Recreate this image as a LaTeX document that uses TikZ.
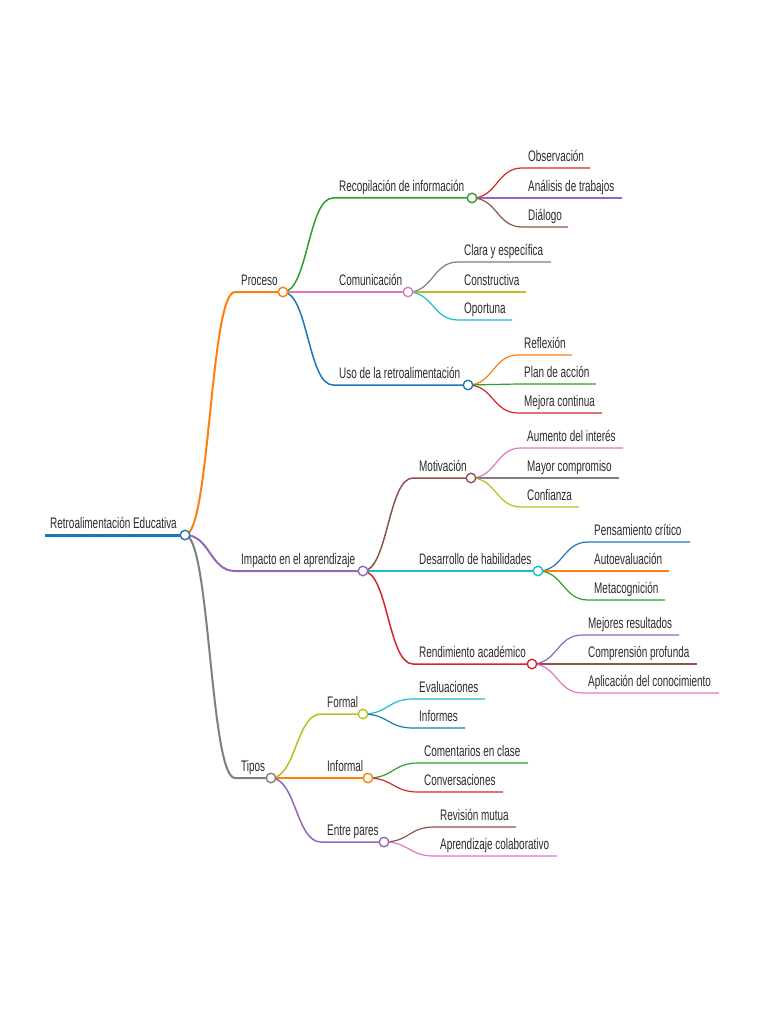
\documentclass[tikz,border=0pt]{standalone}
\usepackage{fontspec}
\setmainfont{Liberation Sans}[FakeStretch=0.65]
\usetikzlibrary{calc}
\definecolor{cBlue}{HTML}{1F77B4}
\definecolor{cOrange}{HTML}{FF7F0E}
\definecolor{cGreen}{HTML}{2CA02C}
\definecolor{cRed}{HTML}{D62728}
\definecolor{cPurple}{HTML}{9467BD}
\definecolor{cBrown}{HTML}{8C564B}
\definecolor{cPink}{HTML}{E377C2}
\definecolor{cGray}{HTML}{7F7F7F}
\definecolor{cOlive}{HTML}{BCBD22}
\definecolor{cCyan}{HTML}{17BECF}
\definecolor{txt}{HTML}{2B2B2B}
\tikzset{
  lbl/.style={inner sep=0pt, text=txt, font=\fontsize{15.3}{18}\selectfont, anchor=base west},
  circ/.style={circle, fill=white, line width=1.4pt, minimum size=9.5pt, inner sep=0pt},
}
% name, parent, xs, y, xe, color, lw, label
\newcommand\mmb[8]{%
  \coordinate (#1-s) at (#3,#4);
  \coordinate (#1) at (#5,#4);
  \draw[#6, line width=#7pt] (#2) .. controls ($(#2)+(25,0)$) and ($(#1-s)+(-25,0)$) .. (#1-s) -- (#1);
  \node[lbl] (#1-t) at ($(#1-s)+(6,-6.5)$) {#8};
}
\newcommand\mmc[2]{\node[circ, draw=#2] (#1-c) at (#1) {};}
\begin{document}
\begin{tikzpicture}[x=1pt,y=-1pt]
\useasboundingbox[fill=white] (0,0) rectangle (768,1024);
% root
\coordinate (root-s) at (45,535);
\coordinate (root) at (185,535);
\draw[cBlue, line width=3pt] (root-s) -- (root);
\node[lbl] (root-t) at (50,528) {Retroalimentación Educativa};
% level 1
\mmb{pro}{root}{235}{292}{283}{cOrange}{2}{Proceso}
\mmb{imp}{root}{235}{571}{363}{cPurple}{2}{Impacto en el aprendizaje}
\mmb{tip}{root}{235}{778}{271}{cGray}{2}{Tipos}
% Proceso
\mmb{rec}{pro}{333}{198}{472}{cGreen}{1.5}{Recopilación de información}
\mmb{com}{pro}{333}{292}{408}{cPink}{1.5}{Comunicación}
\mmb{uso}{pro}{333}{385}{468}{cBlue}{1.5}{Uso de la retroalimentación}
\mmb{obs}{rec}{522}{168}{590}{cRed}{1.2}{Observación}
\mmb{ana}{rec}{522}{198}{622}{cPurple}{1.2}{Análisis de trabajos}
\mmb{dia}{rec}{522}{227}{568}{cBrown}{1.2}{Diálogo}
\mmb{cla}{com}{458}{262}{551}{cGray}{1.2}{Clara y específica}
\mmb{cons}{com}{458}{292}{526}{cOlive}{1.2}{Constructiva}
\mmb{opo}{com}{458}{320}{512}{cCyan}{1.2}{Oportuna}
\mmb{ref}{uso}{518}{355}{572}{cOrange}{1.2}{Reflexión}
\mmb{pla}{uso}{518}{384}{596}{cGreen}{1.2}{Plan de acción}
\mmb{mej}{uso}{518}{413}{602}{cRed}{1.2}{Mejora continua}
% Impacto
\mmb{mot}{imp}{413}{478}{471}{cBrown}{1.5}{Motivación}
\mmb{des}{imp}{413}{571}{538}{cCyan}{1.5}{Desarrollo de habilidades}
\mmb{ren}{imp}{413}{664}{532}{cRed}{1.5}{Rendimiento académico}
\mmb{aum}{mot}{521}{448}{623}{cPink}{1.2}{Aumento del interés}
\mmb{may}{mot}{521}{478}{619}{cGray}{1.2}{Mayor compromiso}
\mmb{conf}{mot}{521}{507}{579}{cOlive}{1.2}{Confianza}
\mmb{pen}{des}{588}{542}{690}{cBlue}{1.2}{Pensamiento crítico}
\mmb{aut}{des}{588}{571}{669}{cOrange}{1.2}{Autoevaluación}
\mmb{met}{des}{588}{600}{665}{cGreen}{1.2}{Metacognición}
\mmb{mejr}{ren}{582}{635}{679}{cPurple}{1.2}{Mejores resultados}
\mmb{comp}{ren}{582}{664}{697}{cBrown}{1.2}{Comprensión profunda}
\mmb{apl}{ren}{582}{693}{719}{cPink}{1.2}{Aplicación del conocimiento}
% Tipos
\mmb{for}{tip}{321}{714}{363}{cOlive}{1.5}{Formal}
\mmb{inf}{tip}{321}{778}{368}{cOrange}{1.5}{Informal}
\mmb{ent}{tip}{321}{842}{384}{cPurple}{1.5}{Entre pares}
\mmb{eva}{for}{413}{699}{485}{cCyan}{1.2}{Evaluaciones}
\mmb{infm}{for}{413}{728}{465}{cBlue}{1.2}{Informes}
\mmb{come}{inf}{418}{763}{528}{cGreen}{1.2}{Comentarios en clase}
\mmb{conv}{inf}{418}{792}{503}{cRed}{1.2}{Conversaciones}
\mmb{rev}{ent}{434}{827}{516}{cBrown}{1.2}{Revisión mutua}
\mmb{apr}{ent}{434}{856}{557}{cPink}{1.2}{Aprendizaje colaborativo}
% circles
\mmc{root}{cBlue}
\mmc{pro}{cOrange}
\mmc{imp}{cPurple}
\mmc{tip}{cGray}
\mmc{rec}{cGreen}
\mmc{com}{cPink}
\mmc{uso}{cBlue}
\mmc{mot}{cBrown}
\mmc{des}{cCyan}
\mmc{ren}{cRed}
\mmc{for}{cOlive}
\mmc{inf}{cOrange}
\mmc{ent}{cPurple}
\end{tikzpicture}
\end{document}
